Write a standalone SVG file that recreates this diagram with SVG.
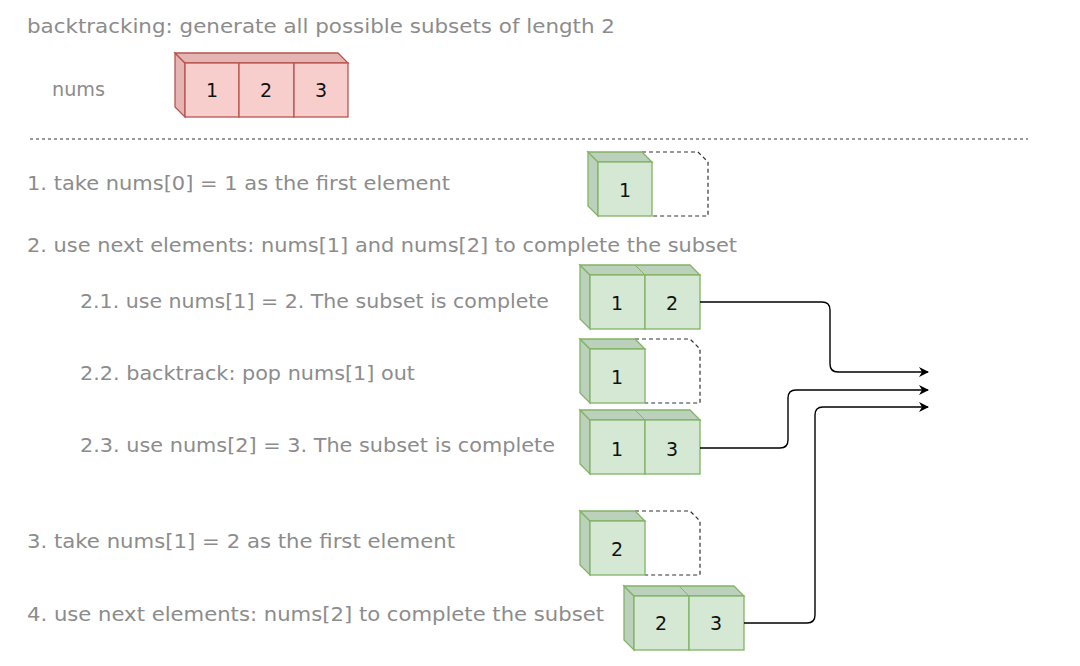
<svg xmlns="http://www.w3.org/2000/svg" width="1080" height="666" viewBox="0 0 1080 666">
<defs>
<style>
.t{font-family:"DejaVu Sans",sans-serif;font-size:19px;fill:#8c8c8c}
.n{font-family:"DejaVu Sans",sans-serif;font-size:19px;fill:#111;text-anchor:middle}
.r{fill:#f8cecc;stroke:#b85450;stroke-width:1.3}
.rs{fill:#e4b5b3;stroke:#b85450;stroke-width:1.3}
.g{fill:#d5e8d4;stroke:#82b366;stroke-width:1.3}
.gs{fill:#bcd1bb;stroke:#82b366;stroke-width:1.3}
.d{fill:#fff;stroke:#333;stroke-width:1.2;stroke-dasharray:4 3}
.c{fill:none;stroke:#000;stroke-width:1.4}
</style>
<marker id="a" viewBox="0 0 10 10" refX="9" refY="5" markerWidth="10" markerHeight="10" markerUnits="userSpaceOnUse" orient="auto"><path d="M0,0 L10,5 L0,10 L3,5z" fill="#000"/></marker>
</defs>
<rect width="1080" height="666" fill="#fff"/>
<text class="t" x="27" y="33" textLength="588" lengthAdjust="spacingAndGlyphs">backtracking: generate all possible subsets of length 2</text>
<text class="t" x="52" y="96" textLength="53" lengthAdjust="spacingAndGlyphs">nums</text>
<g id="nums">
<path class="rs" d="M175,53 L185,63 L185,117 L175,107Z"/>
<path class="rs" d="M175,53 L338,53 L348,63 L185,63Z"/>
<rect class="r" x="185" y="63" width="54" height="54"/><rect class="r" x="239" y="63" width="55" height="54"/><rect class="r" x="294" y="63" width="54" height="54"/>
<text class="n" x="212" y="97">1</text><text class="n" x="266" y="97">2</text><text class="n" x="321" y="97">3</text>
</g>
<line x1="30" y1="139" x2="1028" y2="139" stroke="#333" stroke-dasharray="3 3"/>
<text class="t" x="27" y="190" textLength="423" lengthAdjust="spacingAndGlyphs">1. take nums[0] = 1 as the first element</text>
<text class="t" x="27" y="252" textLength="710" lengthAdjust="spacingAndGlyphs">2. use next elements: nums[1] and nums[2] to complete the subset</text>
<text class="t" x="80" y="308" textLength="469" lengthAdjust="spacingAndGlyphs">2.1. use nums[1] = 2. The subset is complete</text>
<text class="t" x="80" y="380" textLength="335" lengthAdjust="spacingAndGlyphs">2.2. backtrack: pop nums[1] out</text>
<text class="t" x="80" y="452" textLength="475" lengthAdjust="spacingAndGlyphs">2.3. use nums[2] = 3. The subset is complete</text>
<text class="t" x="27" y="548" textLength="428" lengthAdjust="spacingAndGlyphs">3. take nums[1] = 2 as the first element</text>
<text class="t" x="27" y="621" textLength="577" lengthAdjust="spacingAndGlyphs">4. use next elements: nums[2] to complete the subset</text>
<g id="s1">
<path class="d" d="M642,152 L698,152 L708,162 L708,216 L652,216"/>
<path class="gs" d="M588,152 L598,162 L598,216 L588,206Z"/><path class="gs" d="M588,152 L642,152 L652,162 L598,162Z"/>
<rect class="g" x="598" y="162" width="54" height="54"/><text class="n" x="625" y="197">1</text>
</g>
<g id="s21">
<path class="gs" d="M580,265 L590,275 L590,329 L580,319Z"/><path class="gs" d="M580,265 L690,265 L700,275 L590,275Z"/><line x1="635" y1="265" x2="645" y2="275" stroke="#82b366"/>
<rect class="g" x="590" y="275" width="55" height="54"/><rect class="g" x="645" y="275" width="55" height="54"/>
<text class="n" x="617" y="310">1</text><text class="n" x="672" y="310">2</text>
</g>
<g id="s22">
<path class="d" d="M635,339 L690,339 L700,349 L700,403 L645,403"/>
<path class="gs" d="M580,339 L590,349 L590,403 L580,393Z"/><path class="gs" d="M580,339 L635,339 L645,349 L590,349Z"/>
<rect class="g" x="590" y="349" width="55" height="54"/><text class="n" x="617" y="384">1</text>
</g>
<g id="s23">
<path class="gs" d="M580,410 L590,420 L590,474 L580,464Z"/><path class="gs" d="M580,410 L690,410 L700,420 L590,420Z"/><line x1="635" y1="410" x2="645" y2="420" stroke="#82b366"/>
<rect class="g" x="590" y="420" width="55" height="54"/><rect class="g" x="645" y="420" width="55" height="54"/>
<text class="n" x="617" y="456">1</text><text class="n" x="672" y="456">3</text>
</g>
<g id="s3">
<path class="d" d="M635,511 L690,511 L700,521 L700,575 L645,575"/>
<path class="gs" d="M580,511 L590,521 L590,575 L580,565Z"/><path class="gs" d="M580,511 L635,511 L645,521 L590,521Z"/>
<rect class="g" x="590" y="521" width="55" height="54"/><text class="n" x="617" y="556">2</text>
</g>
<g id="s4">
<path class="gs" d="M624,586 L634,596 L634,650 L624,640Z"/><path class="gs" d="M624,586 L734,586 L744,596 L634,596Z"/><line x1="679" y1="586" x2="689" y2="596" stroke="#82b366"/>
<rect class="g" x="634" y="596" width="55" height="54"/><rect class="g" x="689" y="596" width="55" height="54"/>
<text class="n" x="661" y="630">2</text><text class="n" x="716" y="630">3</text>
</g>
<g id="connectors">
<path class="c" marker-end="url(#a)" d="M700,302 L822,302 Q830,302 830,310 L830,364 Q830,372 838,372 L928,372"/>
<path class="c" marker-end="url(#a)" d="M700,448 L780,448 Q788,448 788,440 L788,398 Q788,390 796,390 L928,390"/>
<path class="c" marker-end="url(#a)" d="M744,623 L807,623 Q815,623 815,615 L815,415 Q815,407 823,407 L928,407"/>
</g>
</svg>
